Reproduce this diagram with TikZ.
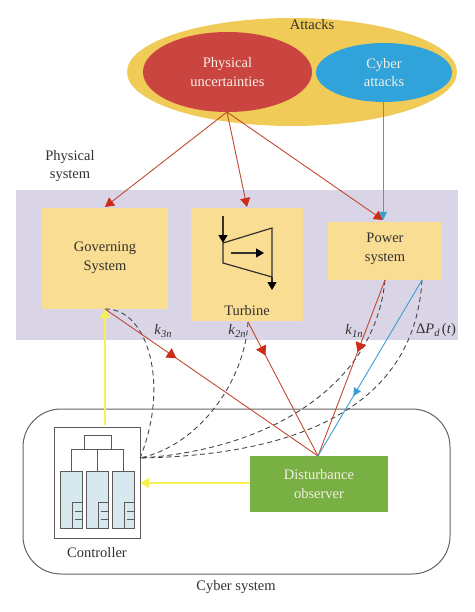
\documentclass[tikz,border=0pt]{standalone}
\usepackage{fontspec}
\setmainfont{Liberation Serif}
\usetikzlibrary{shapes.geometric,arrows.meta,decorations.markings,calc}
\definecolor{goldY}{HTML}{F0CB58}
\definecolor{redE}{HTML}{CB4540}
\definecolor{blueE}{HTML}{2FA3DA}
\definecolor{band}{HTML}{DAD5E6}
\definecolor{boxY}{HTML}{F8DD93}
\definecolor{greenB}{HTML}{78B043}
\definecolor{lineR}{HTML}{C0492F}
\definecolor{headR}{HTML}{CE2C16}
\definecolor{lineB}{HTML}{3A9FD2}
\definecolor{yel}{HTML}{F7F050}
\definecolor{cell}{HTML}{D8E8EF}
\definecolor{ink}{HTML}{33302E}
\definecolor{paleT}{HTML}{F6EFE6}
\newcommand{\subk}[2]{\textit{#1}\raisebox{-3pt}{\fontsize{10.5}{10.5}\selectfont\textit{#2}}}
\tikzset{
 x=1pt,y=-1pt,
 every node/.style={inner sep=0,outer sep=0,text=ink,font=\fontsize{14.5}{18.5}\selectfont,align=center},
 pbox/.style={fill=boxY,draw=none,anchor=north west},
 redline/.style={draw=lineR,line width=.9pt,-{Triangle[length=9pt,width=10pt,color=headR,fill=headR]}},
 redmid/.style={draw=lineR,line width=.9pt,postaction={decorate},decoration={markings,mark=at position #1 with {\arrow{Triangle[length=9.5pt,width=11pt,color=headR,fill=headR]}}}},
 bluemid/.style={draw=lineB,line width=.9pt,postaction={decorate},decoration={markings,mark=at position #1 with {\arrow{Triangle[length=8pt,width=8pt,color=lineB,fill=lineB]}}}},
 yline/.style={draw=yel,line width=1.3pt,-{Triangle[length=9pt,width=10pt,color=yel,fill=yel]}},
 dashline/.style={draw=ink!90,line width=.9pt,dash pattern=on 5pt off 3.5pt},
 struct/.style={draw=ink!80,line width=1pt},
 cellbox/.style={struct,fill=cell},
 blk/.style={draw=ink,line width=1.2pt,-{Triangle[length=8pt,width=9pt,color=black,fill=black]}},
}
\begin{document}
\begin{tikzpicture}
\useasboundingbox (0,0) rectangle (474,612);
% attacks
\node[ellipse,fill=goldY,minimum width=330pt,minimum height=108pt] (att) at (292,72) {};
\node[anchor=center] (attl) at (312,25) {Attacks};
\node[ellipse,fill=redE,minimum width=169pt,minimum height=80pt] (phys) at (227.5,72) {\textcolor{paleT}{Physical}\\\textcolor{paleT}{uncertainties}};
\node[ellipse,fill=blueE,minimum width=136pt,minimum height=59pt] (cyb) at (384,72.5) {\textcolor{paleT}{Cyber}\\\textcolor{paleT}{attacks}};
% physical system
\node (physl) at (70,166) {Physical\\system};
\node[fill=band,anchor=north west,minimum width=442pt,minimum height=150pt] (bandn) at (16,190) {};
\node[pbox,minimum width=126pt,minimum height=101pt] (gov) at (42,208) {};
\node (govl) at (105,258) {Governing\\System};
\node[pbox,minimum width=112pt,minimum height=113pt] (tur) at (191,208) {};
\node (turl) at (247,311) {Turbine};
\node[pbox,minimum width=114pt,minimum height=58pt] (pow) at (328,222) {};
\node (powl) at (385,249) {Power\\system};
% turbine symbol
\draw[blk] (223,216) -- (223,243);
\draw[draw=ink,line width=1.2pt] (223,243) -- (223,263) -- (272,277) -- (272,228) -- cycle;
\draw[blk] (272,277) -- (272,290);
\draw[blk] (231,253) -- (264,253);
% cyber system
\node[draw=ink!75,line width=1pt,rounded corners=38pt,anchor=north west,minimum width=427pt,minimum height=165pt] (cybs) at (23,409) {};
\node (cybl) at (236,587) {Cyber system};
\node[draw=ink!80,line width=1pt,fill=white,anchor=north west,minimum width=86pt,minimum height=111pt] (ctl) at (54,427) {};
\node (ctll) at (97,553) {Controller};
\node[fill=greenB,anchor=north west,minimum width=138pt,minimum height=56pt] (dist) at (250,456) {};
\node at (319,484) {\textcolor{paleT}{Disturbance}\\\textcolor{paleT}{observer}};
% controller internals
\draw[struct] (84,435) rectangle (111,449);
\draw[struct] (71,471) -- (71,449) -- (123,449) -- (123,471);
\draw[struct] (97,449) -- (97,471);
\foreach \x in {60,86,112}{
 \draw[cellbox] (\x,471) rectangle +(22,57);
 \draw[struct] ($(\x,528)+(12,0)$) -- +(0,-26) -- +(10,-26);
 \foreach \y in {511,519}{\draw[struct] ($(\x,\y)+(15,0)$) -- +(7,0);}
}
% coordinates
\coordinate (ra) at (227,112);
\coordinate (gt) at (105,207);
\coordinate (tt) at (247,207);
\coordinate (pt) at (383,220);
\coordinate (bs) at (383,102);
\coordinate (g) at (105,309);
\coordinate (t) at (248,322);
\coordinate (p) at (385,280);
\coordinate (q) at (422,280);
\coordinate (o) at (318,456);
\coordinate (cd) at (140,458);
% attack arrows
\draw[redline] (ra) -- (gt);
\draw[redline] (ra) -- (tt);
\draw[redline] (ra) -- (pt);
\draw[draw=lineB,line width=.9pt,-{Triangle[length=8pt,width=8pt,color=lineB,fill=lineB]}] (bs) -- (pt);
% dashed
\draw[dashline] (g) .. controls (148,308) and (170,385) .. (cd);
\draw[dashline] (t) .. controls (245,380) and (200,445) .. (cd);
\draw[dashline] (p) .. controls (375,385) and (270,450) .. (cd);
\draw[dashline] (q) .. controls (415,400) and (310,455) .. (cd);
% observer lines
\draw[redmid=0.335] (g) -- (o);
\draw[redmid=0.25] (t) -- (o);
\draw[redmid=0.41] (p) -- (o);
\draw[bluemid=0.66] (q) -- (o);
% yellow
\draw[yline] (105,425) -- (g);
\draw[yline] (dist.west |- 0,483) -- (ctl.east |- 0,483);
% labels
\node at (163,331) {\subk{k}{3n}};
\node at (237,331) {\subk{k}{2n}};
\node at (354,331) {\subk{k}{1n}};
\node at (436,330) {Δ\subk{P}{d}\,(\textit{t})};
\end{tikzpicture}
\end{document}
